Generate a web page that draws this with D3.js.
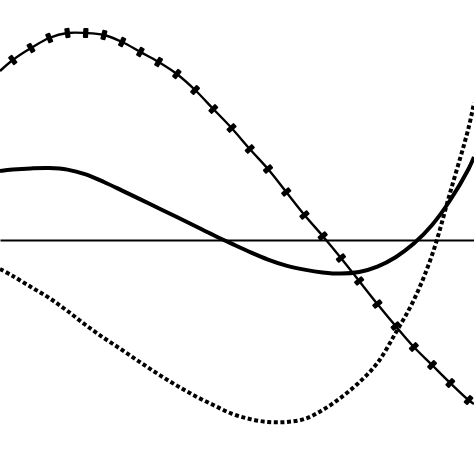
<!DOCTYPE html>
<html>
<head>
<meta charset="utf-8">
<script src="https://cdn.jsdelivr.net/npm/d3@7/dist/d3.min.js"></script>
<style>
  body { margin: 0; background: #fff; }
  svg { display: block; }
</style>
</head>
<body>
<svg id="chart" width="474" height="474"></svg>
<script>
// sample positions (marker index; first and last are the clipped edges)
var xs = [-0.7, 0, 1, 2, 3, 4, 5, 6, 7, 8, 9, 10, 11, 12, 13, 14, 15, 16, 17, 18, 19, 20, 21, 22, 23, 24, 25, 25.3];

// curve with tick markers
var markedValues = [8.45, 9.0, 9.6, 10.1, 10.35, 10.35, 10.25, 9.9, 9.4, 8.9, 8.3, 7.5, 6.55, 5.6, 4.55, 3.55,
  2.4, 1.25, 0.2, -0.9, -2.05, -3.2, -4.3, -5.35, -6.25, -7.15, -8.0, -8.2];

// thick solid curve
var solidValues = [3.45, 3.52, 3.58, 3.6, 3.52, 3.28, 2.9, 2.47, 2.03, 1.59, 1.15, 0.7, 0.25, -0.18, -0.6, -0.98,
  -1.28, -1.48, -1.62, -1.68, -1.6, -1.33, -0.86, -0.18, 0.75, 2.0, 3.55, 4.15];

// dotted curve
var dottedValues = [-1.45, -1.8, -2.35, -2.9, -3.55, -4.25, -4.9, -5.5, -6.12, -6.72, -7.28, -7.8, -8.25, -8.68,
  -8.95, -9.1, -9.1, -8.95, -8.5, -7.88, -7.12, -6.15, -4.65, -3.0, -0.75, 2.4, 5.6, 6.85];

var W = 474, H = 474;
var svg = d3.select('#chart');

var x = d3.scaleLinear().domain([-0.7, 25.3]).range([0, W]);
var y = d3.scaleLinear().domain([-11.7, 12]).range([H, 0]);

function pts(vals) {
  return xs.map(function (d, i) { return [d, vals[i]]; });
}

var line = d3.line()
  .x(function (d) { return x(d[0]); })
  .y(function (d) { return y(d[1]); })
  .curve(d3.curveCatmullRom);

// zero line
svg.append('g')
  .attr('transform', 'translate(0,' + y(0) + ')')
  .call(d3.axisBottom(x).tickValues([]).tickSizeOuter(0))
  .select('.domain')
    .attr('stroke', '#000')
    .attr('stroke-width', 2);

svg.append('path')
  .attr('d', line(pts(solidValues)))
  .attr('fill', 'none')
  .attr('stroke', '#000')
  .attr('stroke-width', 4);

svg.append('path')
  .attr('d', line(pts(dottedValues)))
  .attr('fill', 'none')
  .attr('stroke', '#000')
  .attr('stroke-width', 4)
  .attr('stroke-dasharray', '4,2.6');

svg.append('path')
  .attr('d', line(pts(markedValues)))
  .attr('fill', 'none')
  .attr('stroke', '#000')
  .attr('stroke-width', 2.4);

// markers, turned across the line
var marks = pts(markedValues);
svg.append('g').selectAll('rect')
  .data(marks.slice(1, marks.length - 1))
  .join('rect')
    .attr('x', -2.6)
    .attr('y', -5)
    .attr('width', 5.2)
    .attr('height', 10)
    .attr('rx', 1)
    .attr('fill', '#000')
    .attr('transform', function (d, i) {
      var a = marks[i], b = marks[i + 2];
      var ang = Math.atan2(y(b[1]) - y(a[1]), x(b[0]) - x(a[0])) * 180 / Math.PI;
      return 'translate(' + x(d[0]) + ',' + y(d[1]) + ') rotate(' + ang + ')';
    });
</script>
</body>
</html>
